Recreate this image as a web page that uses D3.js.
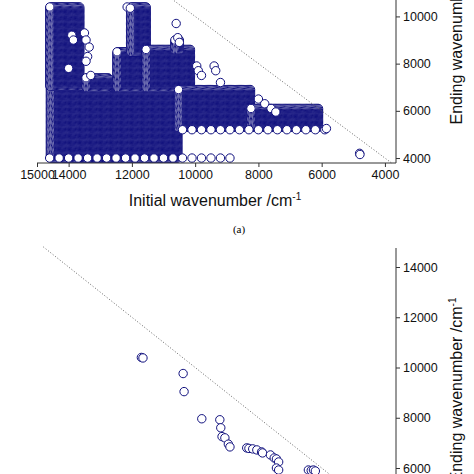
<!DOCTYPE html>
<html><head><meta charset="utf-8">
<script src="https://cdn.jsdelivr.net/npm/d3@7"></script>
<style>body{margin:0;background:#fff}text{font-family:"Liberation Sans",Arial,sans-serif}</style>
</head><body><svg id="c" width="474" height="474"></svg>
<script>
'use strict'

//Panel (a): dense regions as blocks [initialFrom, initialTo, endingFrom, endingTo]
const blocksA = [
	[10550, 14600, 4000, 7050],
	[13650, 14600, 7050, 10400],
	[12750, 13450, 7000, 7400],
	[11700, 12500, 7000, 8500],
	[11550, 12050, 8500, 10400],
	[10150, 11550, 7000, 8600],
	[10500, 10650, 8600, 9000],
	[8250, 10550, 5300, 6900],
	[6100, 8250, 5300, 6100]
];
//Panel (a): sparse rows and single points [initial, ending]
const rowBottom = [14600, 14300, 14000, 13700, 13400, 13100, 12800, 12500, 12200, 11900, 11600, 11300, 11000, 10700, 10400, 10100, 9800, 9500, 9200, 8900];
const row5200 = [10400, 10100, 9800, 9500, 9200, 8900, 8600, 8300, 8000, 7700, 7400, 7100, 6800, 6500, 6200, 5900];
const pointsA = [
	[13500, 9300], [13450, 9000], [13350, 8700], [13400, 8300], [13450, 8100], [13300, 7500],
	[13900, 9200], [13850, 9000], [14000, 7800],
	[12150, 10400], [12050, 10350], [10600, 9700], [10550, 9100], [10500, 8900],
	[9950, 7900], [9900, 7700], [9800, 7500], [9400, 7900], [9350, 7700], [9200, 7200],
	[8000, 6500], [7800, 6300], [7600, 6100], [7450, 5950], [5850, 5250],
	[4800, 4200], [4790, 4150]
];
//Panel (b): [initial, ending]
const pointsB = [
	[11700, 10400], [11650, 10380], [10380, 9760], [10350, 9040],
	[9790, 7960], [9220, 7920], [9190, 7600], [9150, 7250], [9060, 7200], [8950, 6950], [8900, 6840],
	[8370, 6800], [8300, 6780], [8180, 6760], [8050, 6720], [7900, 6640], [7870, 6600],
	[7620, 6520], [7500, 6400], [7430, 6360], [7360, 6240], [7430, 6000], [7360, 5920],
	[6420, 5920], [6330, 5900], [6260, 5920], [6200, 5880]
];
const xTicks = [15000, 14000, 12000, 10000, 8000, 6000, 4000];

const navy = '#10107e';
const svg = d3.select('#c');
const x = d3.scaleLinear().domain([15000, 3650]).range([37, 396]);

//expand blocks into the grid of markers that fills them
const dense = [];
blocksA.forEach(([a0, a1, e0, e1]) => {
	for (let a = a0; a <= a1; a += 35)
		for (let e = e0; e <= e1; e += 50) dense.push([a, e]);
});
const dataA = dense
	.concat(rowBottom.map(a => [a, 4000]))
	.concat(row5200.map(a => [a, 5200]))
	.concat(pointsA);

function circles(g, data, y) {
	g.selectAll('circle').data(data).join('circle')
		.attr('cx', d => x(d[0])).attr('cy', d => y(d[1])).attr('r', 4.2)
		.attr('fill', '#fff').attr('stroke', navy).attr('stroke-width', 1);
}
function styleAxis(g) {
	g.selectAll('path,line').attr('stroke', '#333');
	g.selectAll('text').attr('fill', '#111').style('font-size', '12.5px');
}

//--panel (a)
const yA = d3.scaleLinear().domain([3790, 15000]).range([163, -101.6]);
const gA = svg.append('g');
circles(gA, dataA, yA);
gA.append('line').attr('x1', x(3800)).attr('y1', yA(3800)).attr('x2', x(11000)).attr('y2', yA(11000))
	.attr('stroke', '#666').attr('stroke-dasharray', '1,2');
gA.append('g').attr('transform', 'translate(0,163)')
	.call(d3.axisBottom(x).tickValues(xTicks).tickSize(4).tickFormat(d3.format('d')))
	.call(g => g.select('.domain').attr('d', 'M37,0H396'))
	.call(styleAxis);
gA.append('g').attr('transform', 'translate(396,0)')
	.call(d3.axisRight(yA).tickValues([4000, 6000, 8000, 10000]).tickSize(4).tickFormat(d3.format('d')))
	.call(g => g.select('.domain').attr('d', 'M0,-10V163'))
	.call(styleAxis);
const tA = gA.append('text').attr('x', 215).attr('y', 206).attr('text-anchor', 'middle').style('font-size', '16px').attr('fill', '#111');
tA.append('tspan').text('Initial wavenumber /cm');
tA.append('tspan').attr('dy', -6).style('font-size', '10px').text('-1');
const yl = gA.append('text').attr('transform', 'translate(462,32) rotate(-90)').attr('text-anchor', 'middle').style('font-size', '16px').attr('fill', '#111');
yl.append('tspan').text('Ending wavenumber /cm');
yl.append('tspan').attr('dy', -6).style('font-size', '10px').text('-1');
svg.append('text').attr('x', 239).attr('y', 233).attr('text-anchor', 'middle')
	.style('font-family', 'Liberation Serif,serif').style('font-size', '11px').text('(a)');

//--panel (b)
const yB = d3.scaleLinear().domain([6000, 14000]).range([468, 267]);
const gB = svg.append('g');
gB.append('line').attr('x1', x(14800)).attr('y1', yB(14800)).attr('x2', x(5600)).attr('y2', yB(5600))
	.attr('stroke', '#666').attr('stroke-dasharray', '1,2');
circles(gB, pointsB, yB);
gB.append('g').attr('transform', 'translate(396,0)')
	.call(d3.axisRight(yB).tickValues([6000, 8000, 10000, 12000, 14000]).tickSize(4).tickFormat(d3.format('d')))
	.call(g => g.select('.domain').attr('d', 'M0,248V480'))
	.call(styleAxis);
const yl2 = gB.append('text').attr('transform', 'translate(462,390) rotate(-90)').attr('text-anchor', 'middle').style('font-size', '16px').attr('fill', '#111');
yl2.append('tspan').text('Ending wavenumber /cm');
yl2.append('tspan').attr('dy', -6).style('font-size', '10px').text('-1');
</script></body></html>
